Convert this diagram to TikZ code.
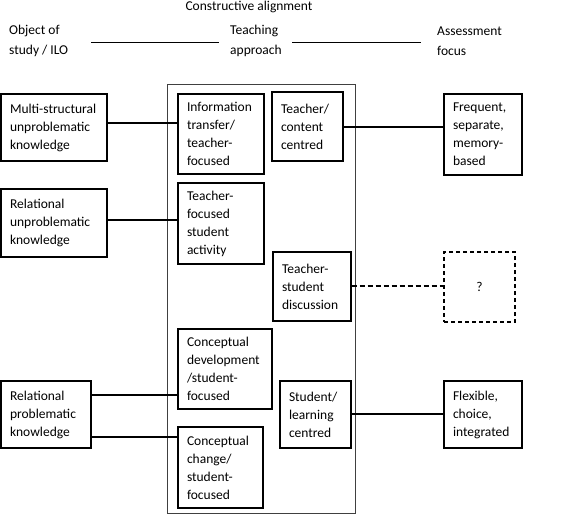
\documentclass[tikz,border=0pt]{standalone}
\usepackage{fontspec}
\setmainfont{Carlito}
\begin{document}
\begin{tikzpicture}[x=1pt,y=1pt,
  box/.style={draw, line width=1.4pt, align=left, inner xsep=9pt, inner ysep=0pt,
    font=\fontsize{13.5}{18}\selectfont},
  dbox/.style={box, line width=1.2pt, dash pattern=on 4pt off 3pt, align=center},
  hdr/.style={align=left, inner sep=0pt, font=\fontsize{13.5}{20}\selectfont},
  link/.style={line width=1.2pt},
  dlink/.style={line width=1.2pt, dash pattern=on 5pt off 3pt},
  frame/.style={draw=black!75, line width=0.8pt}]
\useasboundingbox (0,0) rectangle (568,-514);

% headers
\node[hdr] (title) at (249,-7) {Constructive alignment};
\node[hdr, anchor=west] (h1) at (9,-41) {Object of\\study / ILO};
\node[hdr, anchor=west] (h2) at (230,-41) {Teaching\\approach};
\node[hdr, anchor=west] (h3) at (437,-41) {Assessment\\focus};
\coordinate (l1a) at (91,-42);
\coordinate (l1b) at (219,-42);
\coordinate (l2a) at (292,-42);
\coordinate (l2b) at (421,-42);
\draw[line width=0.9pt] (l1a) -- (l1b);
\draw[line width=0.9pt] (l2a) -- (l2b);

% central frame
\node[frame, minimum width=188pt, minimum height=429pt, inner sep=0pt] (frame) at (261,-298.5) {};

% left column
\node[box, text width=88pt, minimum height=67pt] (ms) at (54,-127.5) {Multi-structural\\unproblematic\\knowledge};
\node[box, text width=88pt, minimum height=68pt] (ru) at (54,-223) {Relational\\unproblematic\\knowledge};
\node[box, text width=72pt, minimum height=67pt] (rp) at (46,-414.5) {Relational\\problematic\\knowledge};

% middle column
\node[box, text width=68pt, minimum height=80pt] (it) at (221,-134) {Information\\transfer/\\teacher-\\focused};
\node[box, text width=68pt, minimum height=81pt] (tfsa) at (221,-223.5) {Teacher-\\focused\\student\\activity};
\node[box, text width=76pt, minimum height=80pt] (cd) at (225,-369) {Conceptual\\development\\/student-\\focused};
\node[box, text width=67pt, minimum height=81pt] (cc) at (220.5,-467.5) {Conceptual\\change/\\student-\\focused};
\node[box, text width=53pt, minimum height=69pt] (tc) at (307.5,-126.5) {Teacher/\\content\\centred};
\node[box, text width=60pt, minimum height=69pt] (tsd) at (312,-286.5) {Teacher-\\student\\discussion};
\node[box, text width=53pt, minimum height=67pt] (sl) at (315.5,-414.5) {Student/\\learning\\centred};

% right column
\node[box, text width=60pt, minimum height=81pt] (fr) at (483,-134.5) {Frequent,\\separate,\\memory-\\based};
\node[dbox, text width=53pt, minimum height=70pt] (q) at (479.5,-287) {?};
\node[box, text width=60pt, minimum height=67pt] (fl) at (483,-414.5) {Flexible,\\choice,\\integrated};

% connector levels
\coordinate (y1) at (0,-123);
\coordinate (y2) at (0,-220);
\coordinate (y3) at (0,-395);
\coordinate (y4) at (0,-437);
\coordinate (y5) at (0,-127);
\coordinate (y6) at (0,-286);
\coordinate (y7) at (0,-414);

\draw[link] (ms.east |- y1) -- (it.west |- y1);
\draw[link] (ru.east |- y2) -- (tfsa.west |- y2);
\draw[link] (rp.east |- y3) -- (cd.west |- y3);
\draw[link] (rp.east |- y4) -- (cc.west |- y4);
\draw[link] (tc.east |- y5) -- (fr.west |- y5);
\draw[dlink] (tsd.east |- y6) -- (q.west |- y6);
\draw[link] (sl.east |- y7) -- (fl.west |- y7);
\end{tikzpicture}
\end{document}
